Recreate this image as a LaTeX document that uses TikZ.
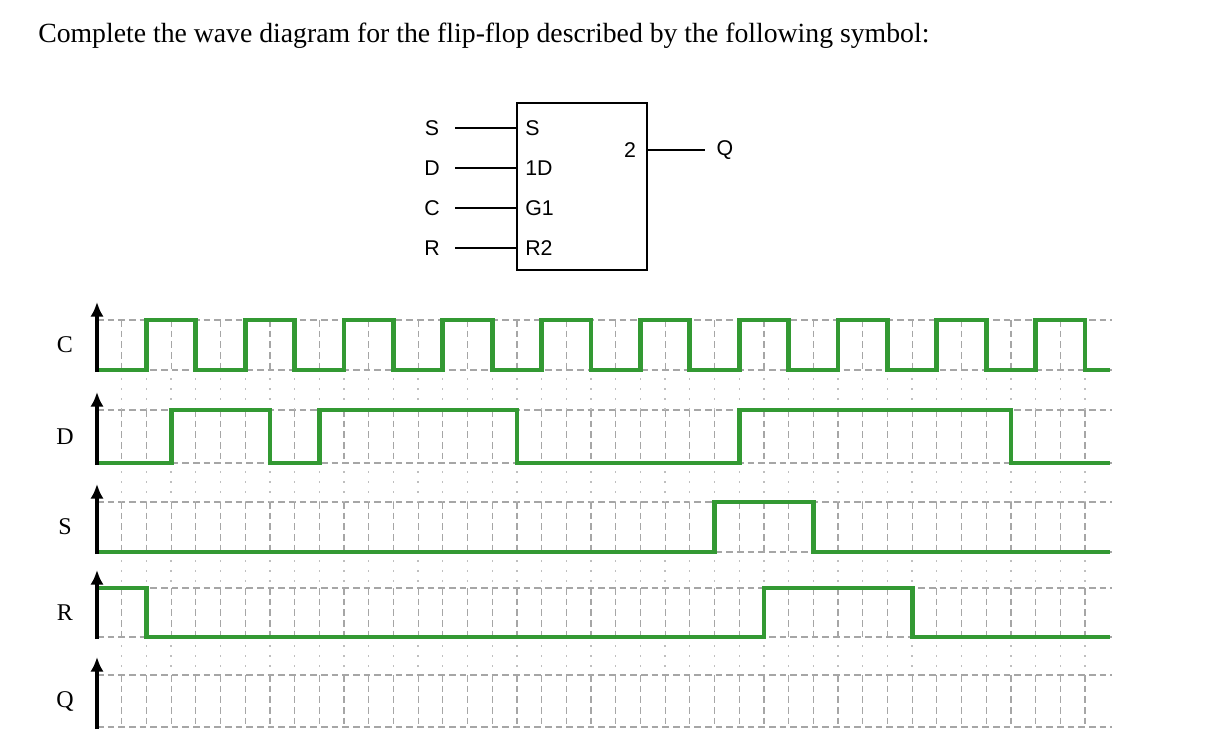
\documentclass[tikz,border=0pt]{standalone}
\usetikzlibrary{arrows.meta}
\usepackage{fontspec}
\setmainfont{Liberation Serif}
\setsansfont{Liberation Sans}
\begin{document}
\begin{tikzpicture}[x=0.75pt,y=-0.75pt,
  wave/.style={draw={rgb,255:red,51;green,153;blue,51},line width=3.6pt,line join=miter},
  gdash/.style={draw=gray!70,line width=0.9pt,dash pattern=on 5pt off 3pt},
  gdot/.style={draw=gray!50,line width=1pt,dash pattern=on 1.5pt off 6pt},
  axis/.style={draw=black,line width=3pt,-{Latex[length=11pt,width=10pt]}},
  lab/.style={font=\fontsize{16}{16}\selectfont\sffamily,inner sep=0pt}]
\useasboundingbox (0,0) rectangle (1225,756);
\node[anchor=west,inner sep=0pt,font=\fontsize{20.8}{20.8}\selectfont] (title) at (38,36) {Complete the wave diagram for the flip-flop described by the following symbol:};
% gate
\node[draw,line width=1.5pt,minimum width=97.5pt,minimum height=125pt,inner sep=0pt] (box) at (582,186.5) {};
\foreach \n/\t/\u/\y in {s/S/S/128,d/D/1D/168,c/C/G1/208,r/R/R2/248}{
  \node[lab] (o\n) at (432,\y) {\t};
  \node[lab,anchor=west] (i\n) at (525,\y) {\u};
  \coordinate (e\n) at (517,\y);
  \draw[line width=1.5pt] (455,\y) -- (e\n);
}
\node[lab] (two) at (630,150) {2};
\node[lab] (qo) at (725,150) {Q};
\coordinate (qs) at (647,150);
\draw[line width=1.5pt] (qs) -- (705,150);
% grid
\def\ux{24.7}
\foreach \hi/\lo/\name in {320/370/C,410/463/D,502/552/S,588/637/R,675/727/Q}{
  \draw[gdash] (97,\hi) -- (1112,\hi);
  \draw[gdash] (97,\lo) -- (1112,\lo);
  \foreach \k in {1,...,40}{\draw[gdash] (97+\k*\ux,\hi) -- (97+\k*\ux,\lo);}
  \node[font=\fontsize{18}{18}\selectfont] (l\name) at (65,{(\hi+\lo)/2}) {\name};
  \coordinate (a\name) at (97,{\lo+2});
  \coordinate (b\name) at (97,{\hi-18});
}
\foreach \a/\b in {370/410,463/502,552/588,637/675}{
  \foreach \k in {1,...,40}{\draw[gdot] (97+\k*\ux,\a+8) -- (97+\k*\ux,\b);}
}
% waves
\draw[wave] (97,370) \foreach \m in {0,...,9}{ -- ({97+(4*\m+2)*\ux},370) -- ({97+(4*\m+2)*\ux},320) -- ({97+(4*\m+4)*\ux},320) -- ({97+(4*\m+4)*\ux},370)} -- (1110,370);
\draw[wave] (97,463) -- (97+3*\ux,463) -- (97+3*\ux,410) -- (97+7*\ux,410) -- (97+7*\ux,463) -- (97+9*\ux,463) -- (97+9*\ux,410) -- (97+17*\ux,410) -- (97+17*\ux,463) -- (97+26*\ux,463) -- (97+26*\ux,410) -- (97+37*\ux,410) -- (97+37*\ux,463) -- (1110,463);
\draw[wave] (97,552) -- (97+25*\ux,552) -- (97+25*\ux,502) -- (97+29*\ux,502) -- (97+29*\ux,552) -- (1110,552);
\draw[wave] (97,588) -- (97+2*\ux,588) -- (97+2*\ux,637) -- (97+27*\ux,637) -- (97+27*\ux,588) -- (97+33*\ux,588) -- (97+33*\ux,637) -- (1110,637);
\foreach \name in {C,D,S,R,Q}{\draw[axis] (a\name) -- (b\name);}
\end{tikzpicture}
\end{document}
